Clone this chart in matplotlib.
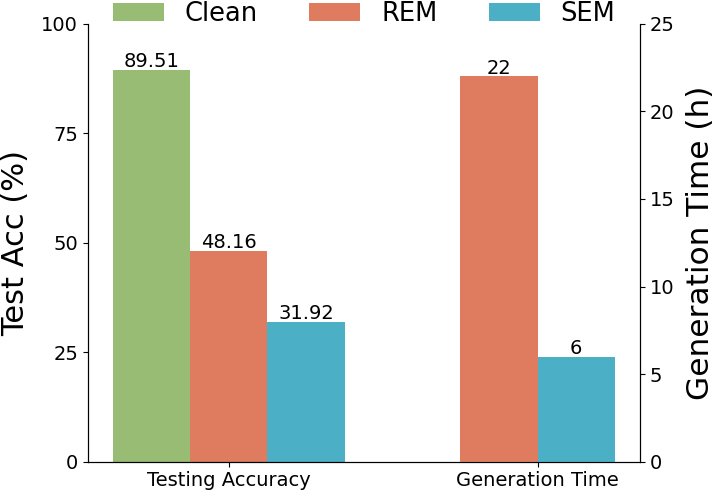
import matplotlib
matplotlib.use("Agg")
import matplotlib.pyplot as plt
import numpy as np

# data
methods = ["Clean", "REM", "SEM"]
colors = ["#98bc73", "#df7b5e", "#4bafc6"]
acc_values = [89.51, 48.16, 31.92]      # Testing Accuracy (%)
time_methods = ["REM", "SEM"]
time_values = [22, 6]                    # Generation Time (h)
group_labels = ["Testing Accuracy", "Generation Time"]

width = 0.25
fig, ax = plt.subplots(figsize=(7.15, 4.96), dpi=100)
fig.subplots_adjust(left=0.123, right=0.895, bottom=0.069, top=0.952)
ax2 = ax.twinx()

# left group: accuracy bars at x=0
handles = []
for i, (m, v) in enumerate(zip(methods, acc_values)):
    b = ax.bar(0 + (i - 1) * width, v, width, color=colors[i], label=m)
    ax.bar_label(b, labels=[f"{v:.2f}"], fontsize=14, padding=-1)
    handles.append(b)

# right group: generation time bars at x=1
for j, (m, v) in enumerate(zip(time_methods, time_values)):
    c = colors[methods.index(m)]
    b = ax2.bar(1 + (j - 0.5) * width, v, width, color=c)
    ax2.bar_label(b, labels=[str(v)], fontsize=14, padding=-1)

ax.set_ylim(0, 100)
ax.set_yticks([0, 25, 50, 75, 100])
ax2.set_ylim(0, 25)
ax2.set_yticks([0, 5, 10, 15, 20, 25])
ax.set_xticks([0, 1])
ax.set_xticklabels(group_labels, fontsize=14)
ax.tick_params(axis="y", labelsize=14)
ax2.tick_params(axis="y", labelsize=14)
ax.set_ylabel("Test Acc (%)", fontsize=22, labelpad=8)
ax2.set_ylabel("Generation Time (h)", fontsize=22.5, labelpad=8)

for a in (ax, ax2):
    a.spines["top"].set_visible(False)

fig.legend(handles=handles, labels=methods, loc="center", ncol=3,
           bbox_to_anchor=(0.509, 0.971), frameon=False, fontsize=18.5,
           columnspacing=2.0, borderaxespad=0)

fig.savefig("out.png", dpi=100)
